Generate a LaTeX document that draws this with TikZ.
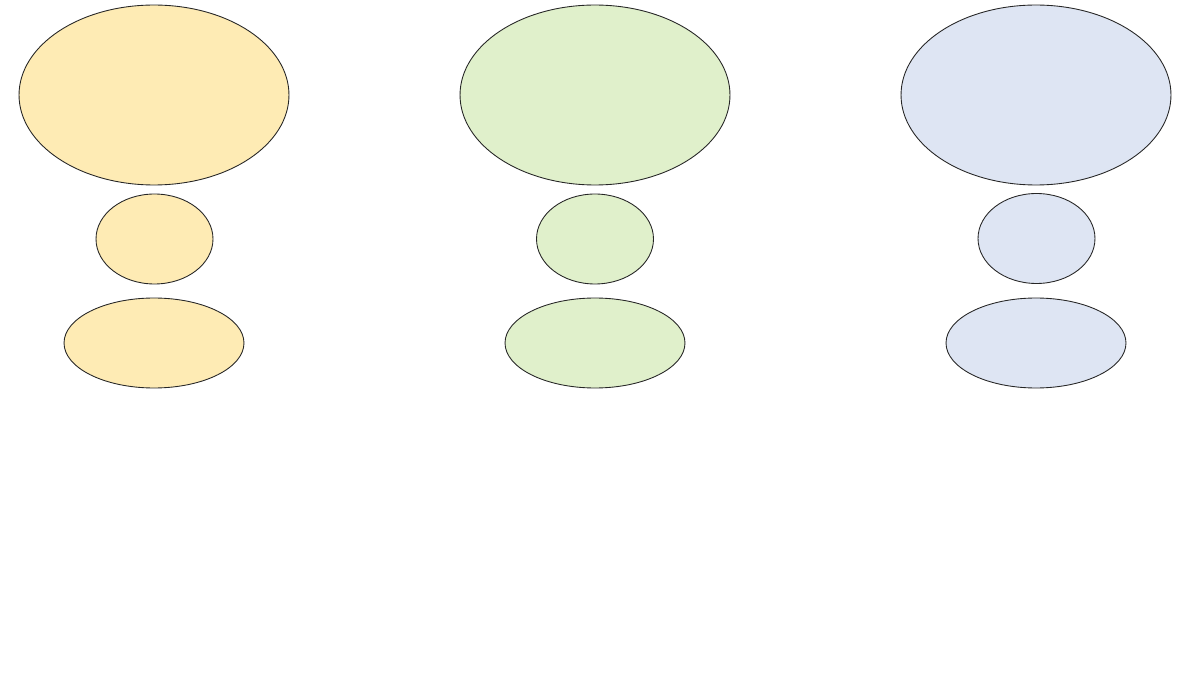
\documentclass[tikz,border=0pt]{standalone}
\usetikzlibrary{shapes.geometric}
\definecolor{yel}{HTML}{FEEBB4}
\definecolor{grn}{HTML}{E0F0CB}
\definecolor{blu}{HTML}{DEE5F3}
\tikzset{
  blob/.style={ellipse, draw=black!85, line width=0.5pt, inner sep=0pt},
  big/.style={blob, minimum width=5.4cm, minimum height=3.6cm},
  small/.style={blob, minimum width=2.34cm, minimum height=1.8cm},
  wide/.style={blob, minimum width=3.6cm, minimum height=1.8cm}
}
\begin{document}
\begin{tikzpicture}[x=0.02cm, y=-0.02cm]
\useasboundingbox (0,0) rectangle (1200,675);
\node[big, fill=yel] (y1) at (154,95) {};
\node[small, fill=yel] (y2) at (154.5,239) {};
\node[wide, fill=yel] (y3) at (154,343) {};
\node[big, fill=grn] (g1) at (595,95) {};
\node[small, fill=grn] (g2) at (595,239) {};
\node[wide, fill=grn] (g3) at (595,343) {};
\node[big, fill=blu] (b1) at (1036,95) {};
\node[small, fill=blu] (b2) at (1036.5,238.5) {};
\node[wide, fill=blu] (b3) at (1036,343) {};
\end{tikzpicture}
\end{document}
